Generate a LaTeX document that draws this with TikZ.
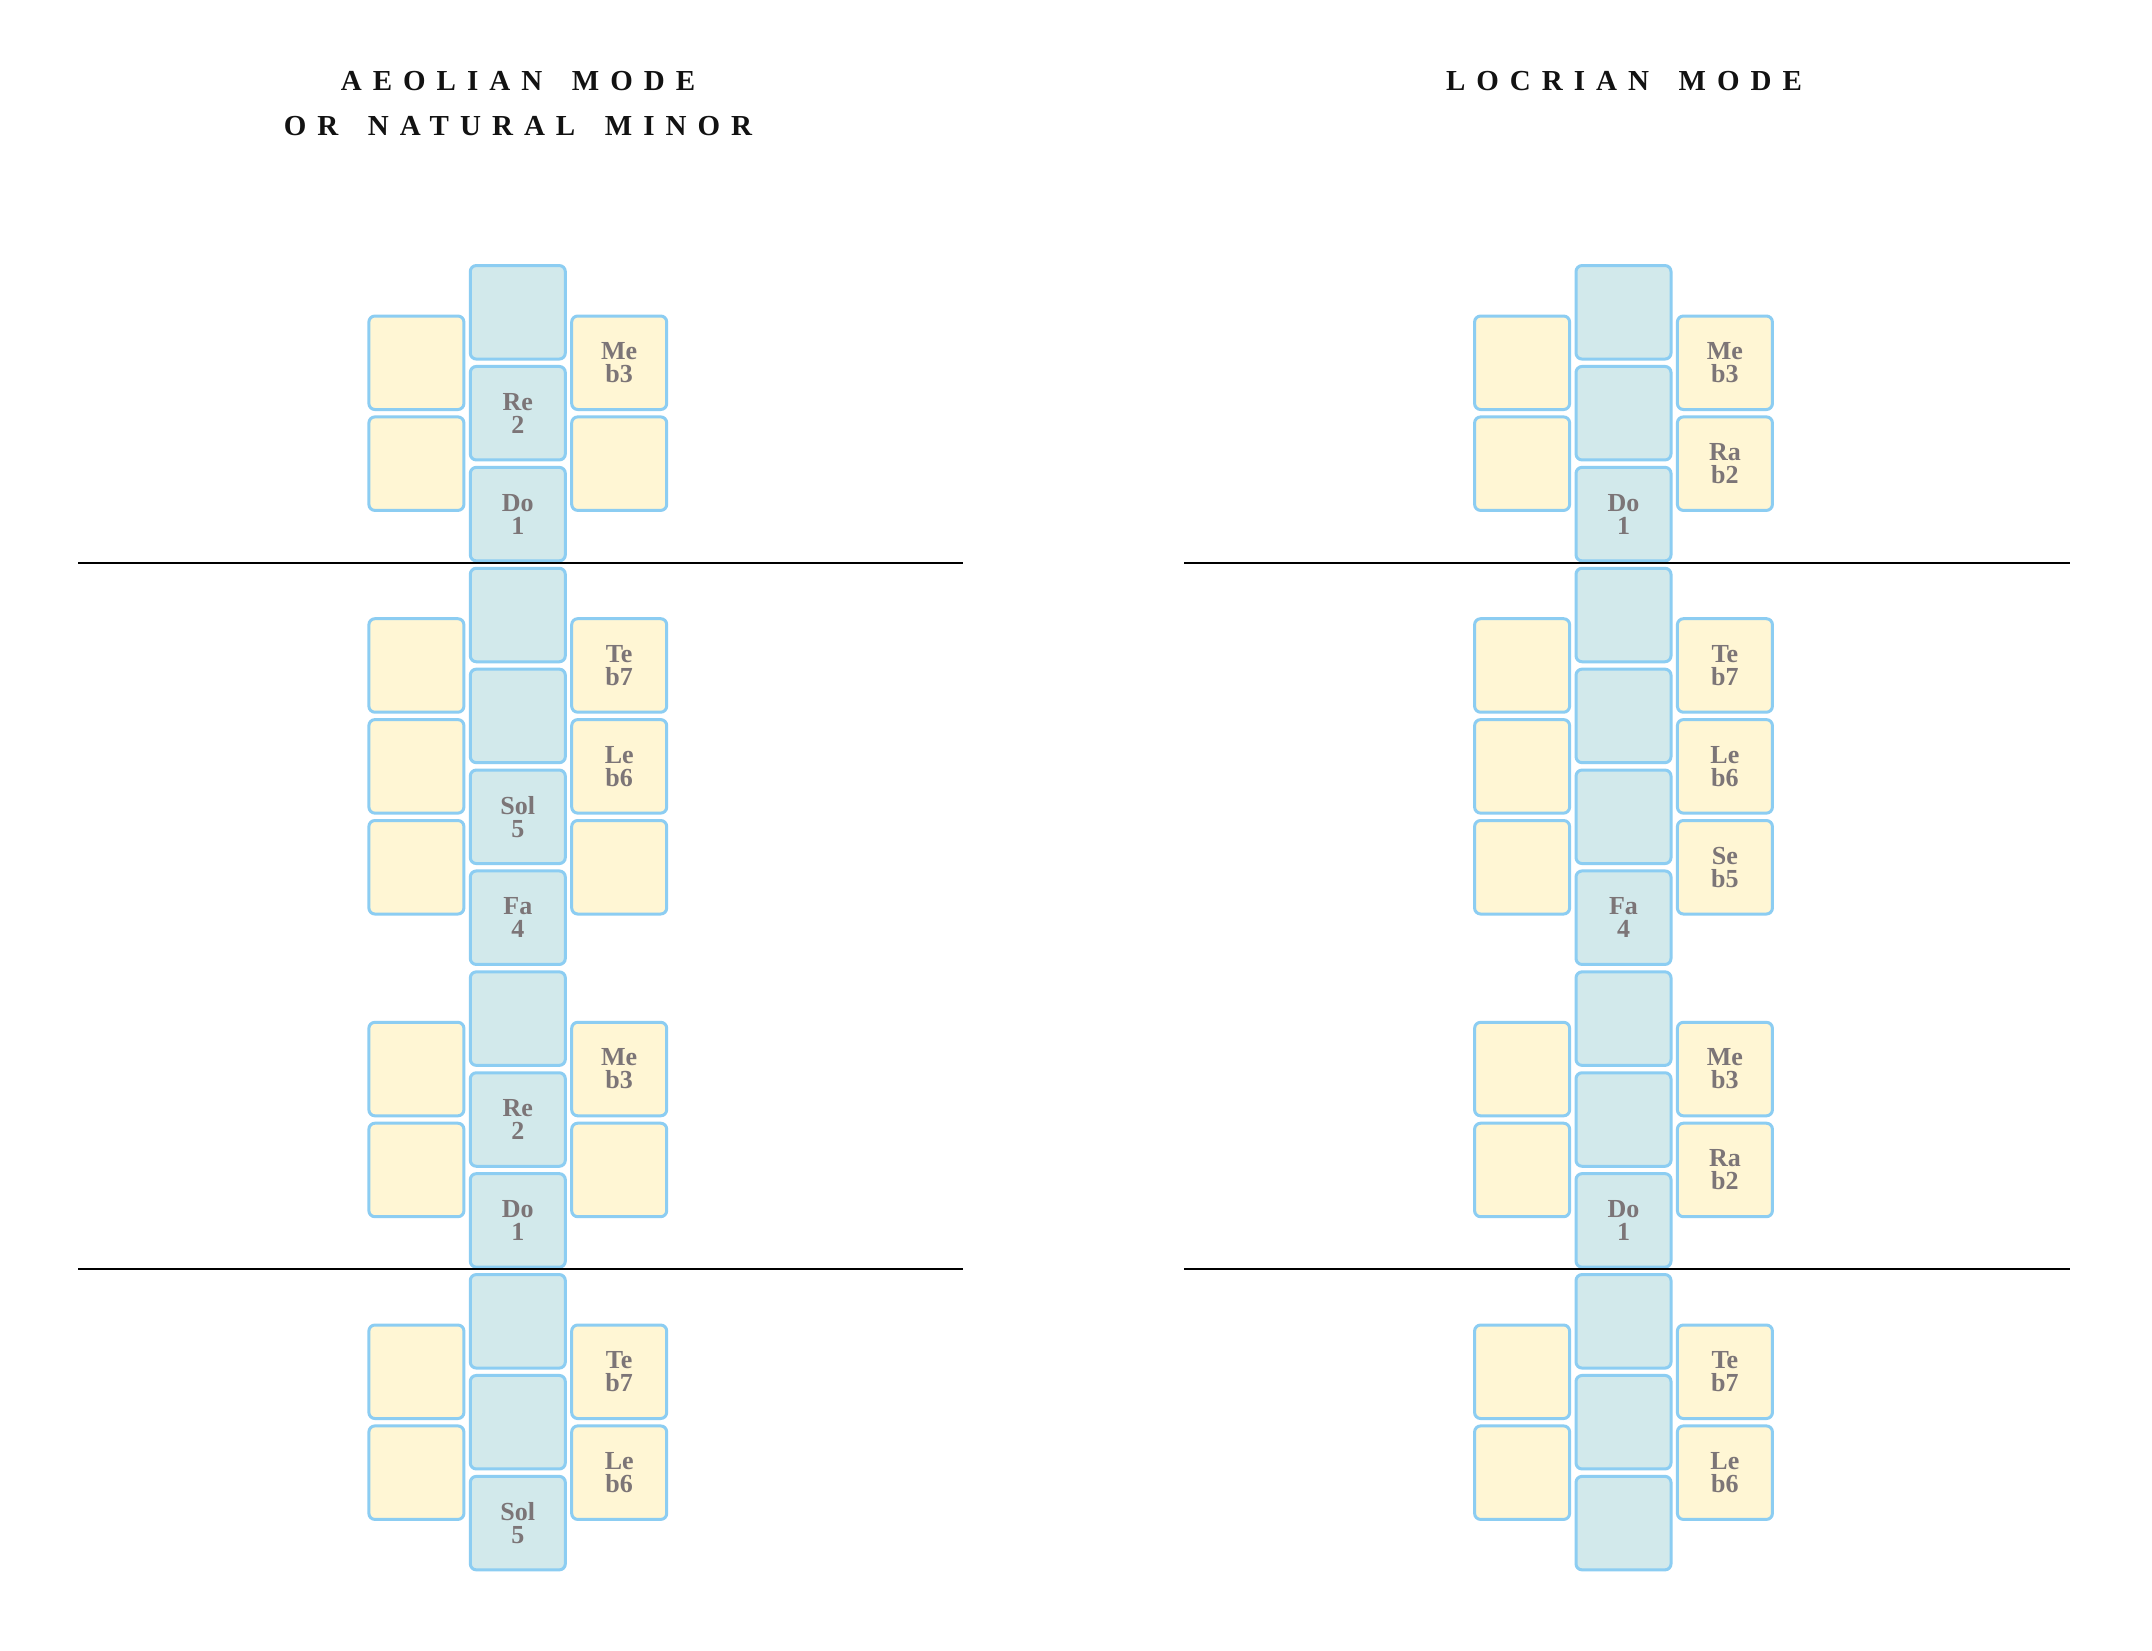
\documentclass[tikz,border=0pt]{standalone}
\usepackage{fontspec}
\setmainfont{Liberation Serif}
\newfontfamily\titlefont[LetterSpace=38,WordSpace=1.62]{Liberation Serif Bold}
\newfontfamily\labfont{Liberation Serif Bold}
\definecolor{edge}{HTML}{8CCDF2}
\definecolor{cfill}{HTML}{D2E9EB}
\definecolor{sfill}{HTML}{FFF6D4}
\definecolor{lab}{HTML}{7C7577}
\tikzset{
  cell/.style={draw=edge, line width=3pt, rounded corners=6pt,
    minimum width=95pt, minimum height=93.5pt, inner sep=0pt,
    align=center, text=lab, font=\labfont\fontsize{26}{23}\selectfont},
  ccell/.style={cell, fill=cfill},
  scell/.style={cell, fill=sfill},
  rule/.style={line width=2pt, black},
  title/.style={font=\titlefont\fontsize{29}{45}\selectfont, align=center, text=black!93, inner sep=0pt}
}
\begin{document}
\begin{tikzpicture}[x=1pt,y=1pt]
\useasboundingbox[fill=white] (0,0) rectangle (2152,-1650);
% titles
\node[title, anchor=base] (ta) at (518,-135) {AEOLIAN MODE\\OR NATURAL MINOR};
\node[title, anchor=base] (tl) at (1624,-90) {LOCRIAN MODE};
% ---------- Aeolian panel ----------
\def\cx{517.8}
\foreach \k/\t [count=\n] in {0/{},1/{Re\\2},2/{Do\\1},3/{},4/{},5/{Sol\\5},6/{Fa\\4},7/{},8/{Re\\2},9/{Do\\1},10/{},11/{},12/{Sol\\5}}
  \node[ccell] (ac\n) at (\cx,{-(312.3+100.9*\k)}) {\t};
\foreach \k [count=\n] in {0.5,1.5,3.5,4.5,5.5,7.5,8.5,10.5,11.5}
  \node[scell] (al\n) at ({\cx-101.4},{-(312.3+100.9*\k)}) {};
\foreach \k/\t [count=\n] in {0.5/{Me\\b3},1.5/{},3.5/{Te\\b7},4.5/{Le\\b6},5.5/{},7.5/{Me\\b3},8.5/{},10.5/{Te\\b7},11.5/{Le\\b6}}
  \node[scell] (ar\n) at ({\cx+101.4},{-(312.3+100.9*\k)}) {\t};
% ---------- Locrian panel ----------
\def\cx{1623.5}
\foreach \k/\t [count=\n] in {0/{},1/{},2/{Do\\1},3/{},4/{},5/{},6/{Fa\\4},7/{},8/{},9/{Do\\1},10/{},11/{},12/{}}
  \node[ccell] (lc\n) at (\cx,{-(312.3+100.9*\k)}) {\t};
\foreach \k [count=\n] in {0.5,1.5,3.5,4.5,5.5,7.5,8.5,10.5,11.5}
  \node[scell] (ll\n) at ({\cx-101.4},{-(312.3+100.9*\k)}) {};
\foreach \k/\t [count=\n] in {0.5/{Me\\b3},1.5/{Ra\\b2},3.5/{Te\\b7},4.5/{Le\\b6},5.5/{Se\\b5},7.5/{Me\\b3},8.5/{Ra\\b2},10.5/{Te\\b7},11.5/{Le\\b6}}
  \node[scell] (lr\n) at ({\cx+101.4},{-(312.3+100.9*\k)}) {\t};
% ---------- rules ----------
\coordinate (a1s) at (78,-563.3);   \coordinate (a1e) at (963,-563.3);
\coordinate (a2s) at (78,-1269.3);  \coordinate (a2e) at (963,-1269.3);
\coordinate (l1s) at (1184,-563.3); \coordinate (l1e) at (2070,-563.3);
\coordinate (l2s) at (1184,-1269.3);\coordinate (l2e) at (2070,-1269.3);
\draw[rule] (a1s) -- (a1e);
\draw[rule] (a2s) -- (a2e);
\draw[rule] (l1s) -- (l1e);
\draw[rule] (l2s) -- (l2e);
\end{tikzpicture}
\end{document}
